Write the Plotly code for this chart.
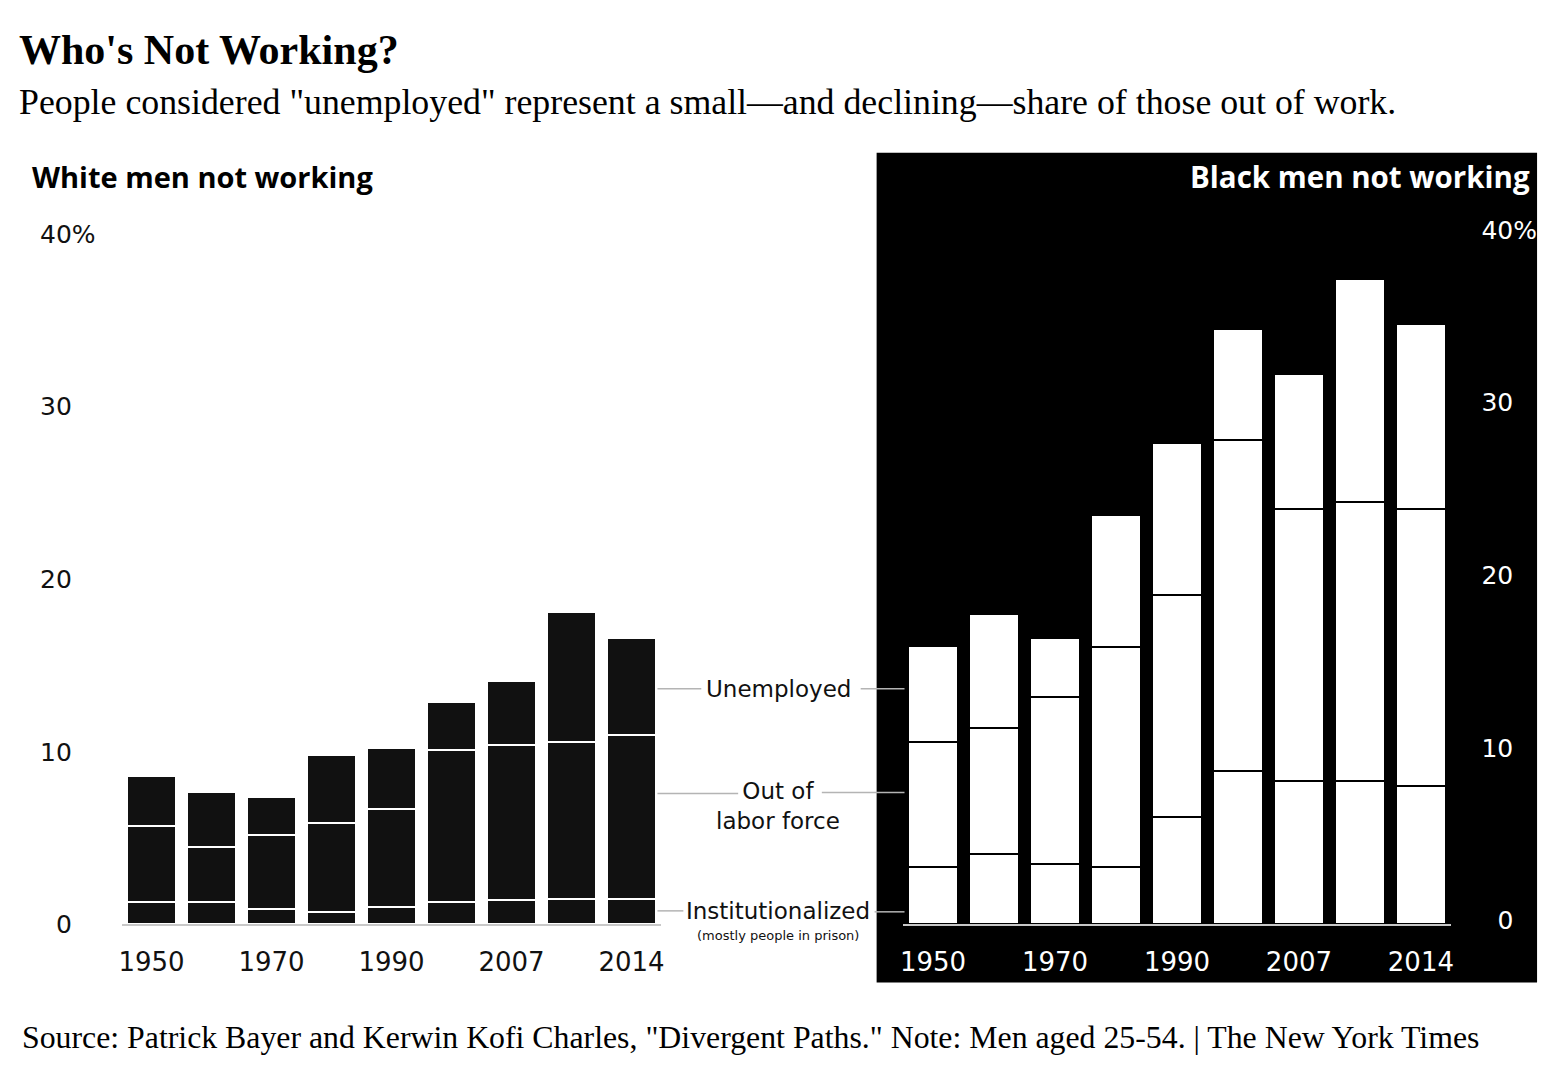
import plotly.graph_objects as go

# ---------------- data ----------------
years = ["1950", "1960", "1970", "1980", "1990", "2000", "2007", "2010", "2014"]
year_ticks = ["1950", "1970", "1990", "2007", "2014"]

white_institutionalized = [1.3, 1.3, 0.9, 0.7, 1.0, 1.3, 1.4, 1.5, 1.5]
white_out_of_labor_force = [4.4, 3.2, 4.3, 5.2, 5.7, 8.8, 9.0, 9.1, 9.5]
white_unemployed = [2.9, 3.2, 2.2, 3.9, 3.5, 2.8, 3.7, 7.5, 5.6]

black_institutionalized = [3.35, 4.1, 3.5, 3.35, 6.2, 8.9, 8.3, 8.3, 8.0]
black_out_of_labor_force = [7.2, 7.3, 9.7, 12.7, 12.9, 19.2, 15.8, 16.2, 16.1]
black_unemployed = [5.6, 6.6, 3.4, 7.7, 8.8, 6.4, 7.8, 12.9, 10.7]

y_tick_values = [0, 10, 20, 30, 40]
y_tick_labels = ["0", "10", "20", "30", "40%"]

# ---------------- layout helpers ----------------
W, H = 1556, 1080
def px(x):
    return x / W
def py(y):
    return 1 - y / H

INVIS = '<span style="color:rgba(0,0,0,0)">%</span>'
tick_text = [t if t.endswith("%") else t + INVIS for t in y_tick_labels]

SANS = "DejaVu Sans"
SERIF = "Liberation Serif"
HEAD = "Open Sans"

fig = go.Figure()

segments_white = [white_institutionalized, white_out_of_labor_force, white_unemployed]
segments_black = [black_institutionalized, black_out_of_labor_force, black_unemployed]
names = ["Institutionalized", "Out of labor force", "Unemployed"]

for name, vals in zip(names, segments_white):
    fig.add_trace(go.Bar(
        x=years, y=vals, name=name, xaxis="x", yaxis="y",
        marker=dict(color="#111111", line=dict(color="#ffffff", width=2)),
        showlegend=False, hoverinfo="skip",
    ))

for name, vals in zip(names, segments_black):
    fig.add_trace(go.Bar(
        x=years, y=vals, name=name, xaxis="x2", yaxis="y2",
        marker=dict(color="#ffffff", line=dict(color="#000000", width=2)),
        showlegend=False, hoverinfo="skip",
    ))

y_domain = [py(935), py(223)]

common_x = dict(
    type="category", range=[-0.5, len(years) - 0.5],
    tickmode="array", tickvals=year_ticks, ticktext=year_ticks,
    showline=True, linecolor="#c8c8c8", linewidth=1.5,
    ticks="", showgrid=False, zeroline=False, fixedrange=True,
    ticklabelstandoff=14,
)
common_y = dict(
    range=[0, 40], domain=y_domain, anchor="free", side="left",
    tickmode="array", tickvals=y_tick_values, ticktext=tick_text,
    showgrid=False, zeroline=False, showline=False, ticks="",
    fixedrange=True, ticklabelstandoff=0,
)

fig.update_layout(
    width=W, height=H, autosize=False,
    margin=dict(l=0, r=0, t=0, b=0, pad=0),
    paper_bgcolor="#ffffff", plot_bgcolor="rgba(0,0,0,0)",
    barmode="stack", bargap=0.17,
    xaxis=dict(common_x, domain=[px(119), px(661)], anchor="y",
               tickfont=dict(family=SANS, size=26, color="#111111")),
    yaxis=dict(common_y, position=px(93),
               tickfont=dict(family=SANS, size=25, color="#111111")),
    xaxis2=dict(common_x, domain=[px(903), px(1454)], anchor="y2",
                tickfont=dict(family=SANS, size=26, color="#ffffff")),
    yaxis2=dict(common_y, position=px(1540), ticklabelshift=-4,
                tickfont=dict(family=SANS, size=25, color="#ffffff")),
    showlegend=False,
)

shapes = [
    dict(type="rect", xref="paper", yref="paper", layer="below",
         x0=px(877), x1=px(1540), y0=py(995), y1=py(139),
         fillcolor="#000000", line=dict(width=0)),
]
leader = dict(color="#b4b4b4", width=1.5)
for (x0, x1, yy) in [(657, 701, 692), (861, 905, 692),
                     (657, 738, 800), (822, 905, 799),
                     (657, 683, 921), (875, 905, 922)]:
    shapes.append(dict(type="line", xref="paper", yref="paper",
                       x0=px(x0), x1=px(x1), y0=py(yy), y1=py(yy), line=leader))
fig.update_layout(shapes=shapes)

def ann(text, x, y, size, family, color="#000000", xanchor="left", align="left"):
    return dict(text=text, x=px(x), y=py(y), xref="paper", yref="paper",
                xanchor=xanchor, yanchor="middle", showarrow=False, align=align,
                font=dict(family=family, size=size, color=color))

annotations = [
    ann("<b>Who's Not Working?</b>", 14, 33, 42, SERIF),
    ann('People considered "unemployed" represent a small\u2014and declining\u2014share of those out of work.',
        14, 87, 35.8, SERIF),
    ann("<b>White men not working</b>", 27, 163, 29, HEAD, "#000000"),
    ann("<b>Black men not working</b>", 1535, 163, 29.5, HEAD, "#ffffff", xanchor="right"),
    ann("Unemployed", 778, 692, 23, SANS, "#111111", xanchor="center", align="center"),
    ann("Out of<br>labor force", 778, 813, 23, SANS, "#111111", xanchor="center", align="center"),
    ann("Institutionalized", 778, 921, 23, SANS, "#111111", xanchor="center", align="center"),
    ann("(mostly people in prison)", 778, 946, 13, SANS, "#111111", xanchor="center", align="center"),
    ann('Source: Patrick Bayer and Kerwin Kofi Charles, "Divergent Paths." Note: Men aged 25-54. | The New York Times',
        17, 1052, 31.8, SERIF),
]
fig.update_layout(annotations=annotations)

reset_css = (
    "document.documentElement.style.margin='0';"
    "document.documentElement.style.padding='0';"
    "document.body.style.margin='0';"
    "document.body.style.padding='0';"
)
fig.write_html("out.html", post_script=reset_css,
               config={"displayModeBar": False})
